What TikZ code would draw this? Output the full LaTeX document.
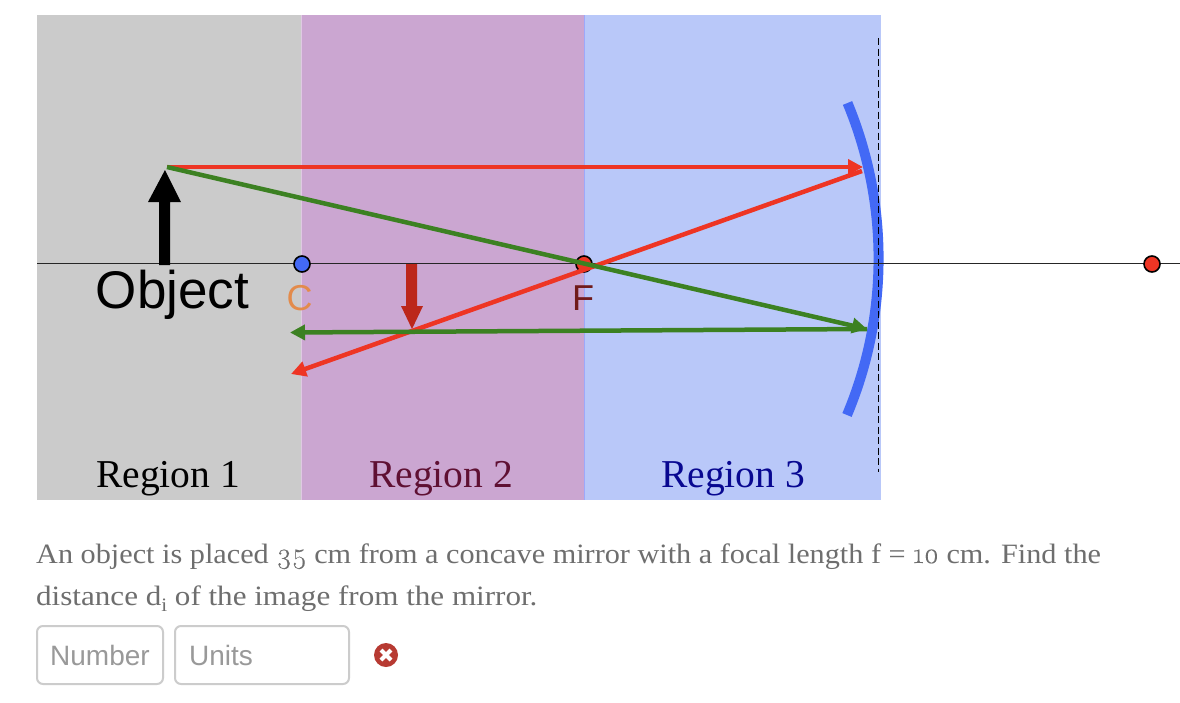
\documentclass[tikz,border=0pt]{standalone}
\usepackage{fontspec}
\setmainfont{Liberation Serif}
\setsansfont{Liberation Sans}
\newfontfamily\qfonta[FakeStretch=1.08]{Liberation Serif}
\newfontfamily\qfontb[FakeStretch=1.11]{Liberation Serif}
\newfontfamily\qnum[Numbers=OldStyle,FakeBold=0.25]{Latin Modern Roman}
\usetikzlibrary{arrows.meta,calc}
\definecolor{rgray}{HTML}{CBCBCB}
\definecolor{rpurple}{HTML}{CBA6D1}
\definecolor{rblue}{HTML}{B9C8F9}
\definecolor{rayred}{HTML}{EE3524}
\definecolor{raygreen}{HTML}{3C8122}
\definecolor{mirrorblue}{HTML}{4369F5}
\definecolor{imgred}{HTML}{BC271B}
\definecolor{qgray}{HTML}{6E6E6E}
\definecolor{boxgray}{HTML}{CCCCCC}
\definecolor{hintgray}{HTML}{999999}
\definecolor{xred}{HTML}{B73A32}
\tikzset{
  x=1pt,y=-1pt,
  region/.style={fill=#1,draw=none},
  raybase/.style={line width=4.5pt},
  redray/.style={raybase,draw=rayred,-{Triangle[length=15pt,width=15pt]}},
  greenray/.style={raybase,draw=raygreen,-{Triangle[length=15pt,width=15pt]}},
  dot/.style={circle,draw=black,line width=1.6pt,minimum size=16pt,inner sep=0pt,fill=#1},
  lab/.style={inner sep=0pt,anchor=base},
  regionlab/.style={lab,font=\fontsize{39.5}{42}\selectfont},
  qtext/.style={inner sep=0pt,anchor=base west,text=qgray},
  inputbox/.style={draw=boxgray,line width=2pt,rounded corners=6pt,fill=white},
  hint/.style={inner sep=0pt,anchor=base west,text=hintgray,font=\sffamily\fontsize{28}{32}\selectfont}
}
\begin{document}
\begin{tikzpicture}
\useasboundingbox (0,0) rectangle (1180,702);
\fill[white] (0,0) rectangle (1180,702);
% regions
\fill[region=rgray] (37,15) rectangle (301,499.5);
\fill[region=rpurple] (301,15) rectangle (584,499.5);
\fill[region=rblue] (584,15) rectangle (880.5,499.5);
\draw[white,opacity=.4,line width=1pt] (301.5,15) -- (301.5,499.5);
\draw[rblue!70!blue,opacity=.5,line width=1pt] (584.5,15) -- (584.5,499.5);
% mirror
\draw[mirrorblue,line width=10pt] (847.5,103) .. controls (889,202.8) and (889,315.2) .. (847,415);
\draw[black,line width=1.8pt,dash pattern=on 7pt off 3.5pt] (878.5,38) -- (878.5,472);
% axis
\coordinate (axL) at (37,263.5);
\coordinate (axR) at (1180,263.5);
\draw[black!85,line width=1.8pt] (axL) -- (axR);
% points
\node[dot=mirrorblue] (C) at (302,264) {};
\node[dot=rayred] (F) at (584,264) {};
\node[dot=rayred] (P) at (1152,264) {};
% object arrow
\fill[black] (159,265) -- (159,202) -- (148,202) -- (165,170) -- (181,202) -- (170,202) -- (170,265) -- cycle;
% image arrow
\fill[imgred] (406,264) -- (406,306) -- (401,306) -- (412,329) -- (423,306) -- (417,306) -- (417,264) -- cycle;
% rays
\coordinate (top) at (167,167);
\coordinate (hitR) at (863,167);
\coordinate (startR) at (862,171);
\coordinate (endR) at (291,374);
\coordinate (hitG) at (867,329);
\coordinate (endG) at (290,332.5);
\draw[redray] (top) -- (hitR);
\draw[redray] (startR) -- (endR);
\draw[greenray] (hitG) -- (endG);
\draw[greenray] (top) -- (hitG);
% labels
\node[lab,font=\sffamily\fontsize{53}{56}\selectfont] (obj) at (172.5,308) {Object};
\node[lab,font=\sffamily\fontsize{36}{40}\selectfont,text={rgb,255:red,227;green,139;blue,75}] (Cl) at (299.5,310) {C};
\node[lab,font=\sffamily\fontsize{36}{40}\selectfont,text={rgb,255:red,112;green,26;blue,26}] (Fl) at (583,310) {F};
\node[regionlab] (r1) at (168,487) {Region 1};
\node[regionlab,text={rgb,255:red,95;green,16;blue,51}] (r2) at (441,487) {Region 2};
\node[regionlab,text={rgb,255:red,8;green,8;blue,145}] (r3) at (733,487) {Region 3};
% question
\node[qtext,font=\qfonta\fontsize{28}{32}\selectfont] (q1) at (36,563) {An object is placed {\qnum\fontsize{29}{32}\selectfont 35} cm from a concave mirror with a focal length f = {\qnum\fontsize{29}{32}\selectfont 10} cm. Find the};
\node[qtext,font=\qfontb\fontsize{28}{32}\selectfont] (q2) at (36,605) {distance d\raisebox{-0.22em}{\fontsize{19}{20}\selectfont i} of the image from the mirror.};
% inputs
\draw[inputbox] (37,626) rectangle (163,684);
\draw[inputbox] (175,626) rectangle (349,684);
\node[hint] (h1) at (50,665) {Number};
\node[hint] (h2) at (189,665) {Units};
% error icon
\node[circle,fill=xred,minimum size=24pt,inner sep=0pt] (err) at (386,655) {};
\draw[white,line width=4pt] ($(err)+(-5,-5)$) -- ($(err)+(5,5)$);
\draw[white,line width=4pt] ($(err)+(-5,5)$) -- ($(err)+(5,-5)$);
\end{tikzpicture}
\end{document}
